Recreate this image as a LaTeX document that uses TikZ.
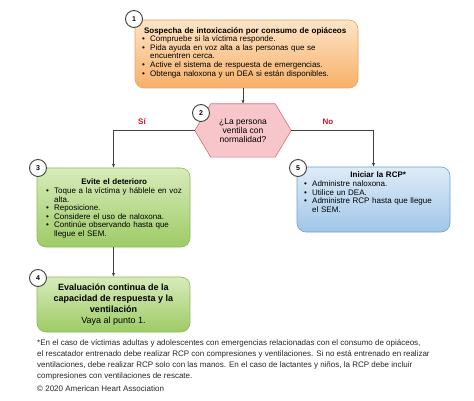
\documentclass[tikz,border=0pt]{standalone}
\usepackage{fontspec}
\setmainfont{Liberation Sans}
\usetikzlibrary{arrows.meta}

\definecolor{orTop}{HTML}{FDE4C6}
\definecolor{orBot}{HTML}{F7B069}
\definecolor{orLine}{HTML}{EBA35C}
\definecolor{grTop}{HTML}{D7EBBB}
\definecolor{grBot}{HTML}{9ECB66}
\definecolor{grLine}{HTML}{8CBA57}
\definecolor{blTop}{HTML}{DEECF8}
\definecolor{blBot}{HTML}{A0C6E8}
\definecolor{blLine}{HTML}{6F9FCB}
\definecolor{hxFill}{HTML}{F6C6CB}
\definecolor{hxLine}{HTML}{D56F7B}
\definecolor{ahaRed}{HTML}{C8102E}

\newcommand{\bul}[1]{\par\hangindent=8pt\hangafter=1\noindent\makebox[8pt][l]{\textbullet}#1}

\begin{document}
\begin{tikzpicture}[x=1pt,y=-1pt,
  every node/.style={font=\fontsize{8}{8.6}\selectfont},
  card/.style={rounded corners=9pt, line width=0.6pt, shading=axis, inner sep=0pt},
  numc/.style={circle, draw=black!75, fill=white, line width=0.9pt, minimum size=17pt,
    inner sep=0pt, font=\fontsize{7}{8}\selectfont\bfseries},
  link/.style={draw=black!75, line width=0.8pt, -{Latex[length=3.5pt,width=3.2pt]}},
  ans/.style={text=ahaRed, font=\fontsize{8}{9}\selectfont\bfseries}]

\useasboundingbox (0,0) rectangle (474,401);

\node[card, draw=orLine, top color=orTop, bottom color=orBot,
  minimum width=223pt, minimum height=68pt] (b1) at (246.5,54) {};
\node[align=left, text width=206pt, inner sep=0pt, anchor=north west] (t1) at (142,27)
  {{\centering\bfseries Sospecha de intoxicación por consumo de opiáceos\par}
   \bul{Compruebe si la víctima responde.}
   \bul{Pida ayuda en voz alta a las personas que se\newline encuentren cerca.}
   \bul{Active el sistema de respuesta de emergencias.}
   \bul{Obtenga naloxona y un DEA si están disponibles.}\par};

\node[minimum width=96pt, minimum height=53pt, inner sep=0pt] (q) at (243,130.5) {};
\draw[draw=hxLine, fill=hxFill, line width=0.6pt] (q.west) -- ([xshift=16pt]q.north west)
  -- ([xshift=-16pt]q.north east) -- (q.east) -- ([xshift=-16pt]q.south east)
  -- ([xshift=16pt]q.south west) -- cycle;
\node[align=center, inner sep=0pt, font=\fontsize{8.5}{9.2}\selectfont] (tq) at (q)
  {¿La persona\\ventila con\\normalidad?};

\node[card, draw=grLine, top color=grTop, bottom color=grBot,
  minimum width=153pt, minimum height=79pt] (b3) at (113.5,207.5) {};
\node[align=left, text width=136pt, inner sep=0pt, anchor=north west] (t3) at (46,179)
  {{\centering\bfseries Evite el deterioro\par}
   \bul{Toque a la víctima y háblele en voz\newline alta.}
   \bul{Reposicione.}
   \bul{Considere el uso de naloxona.}
   \bul{Continúe observando hasta que\newline llegue el SEM.}\par};

\node[card, draw=grLine, top color=grTop, bottom color=grBot,
  minimum width=153pt, minimum height=55pt] (b4) at (113.5,304.5) {};
\node[align=center, inner sep=0pt, font=\fontsize{9}{11}\selectfont] (t4) at (113.5,304.5)
  {\textbf{Evaluación continua de la}\\\textbf{capacidad de respuesta y la}\\
   \textbf{ventilación}\\Vaya al punto 1.};

\node[card, draw=blLine, top color=blTop, bottom color=blBot,
  minimum width=153pt, minimum height=65pt] (b5) at (373.5,199.5) {};
\node[align=left, text width=148pt, inner sep=0pt, anchor=north west] (t5) at (304,172)
  {{\centering\bfseries Iniciar la RCP*\par}
   \bul{Administre naloxona.}
   \bul{Utilice un DEA.}
   \bul{Administre RCP hasta que llegue\newline el SEM.}\par};

\foreach \n/\p in {1/{134,19}, 2/{201,113}, 3/{38,168}, 4/{38,278}, 5/{298,168}}
  {\node[numc] (n\n) at (\p) {\n};}

\node[ans] (si) at (142,122) {Sí};
\node[ans] (no) at (328,122) {No};

\draw[link] (b1.south -| q.north) -- (q.north);
\draw[link] (q.west) -| (b3.north);
\draw[link] (q.east) -| (b5.north);
\draw[link] (b3) -- (b4);

\node[align=left, inner sep=0pt, anchor=north west, text=black!85,
  font=\fontsize{8}{11.1}\selectfont] (nota) at (37,339)
  {*En el caso de víctimas adultas y adolescentes con emergencias relacionadas con el consumo de opiáceos,\\
   el rescatador entrenado debe realizar RCP con compresiones y ventilaciones. Si no está entrenado en realizar\\
   ventilaciones, debe realizar RCP solo con las manos. En el caso de lactantes y niños, la RCP debe incluir\\
   compresiones con ventilaciones de rescate.\\[2pt]
   © 2020 American Heart Association};

\end{tikzpicture}
\end{document}
